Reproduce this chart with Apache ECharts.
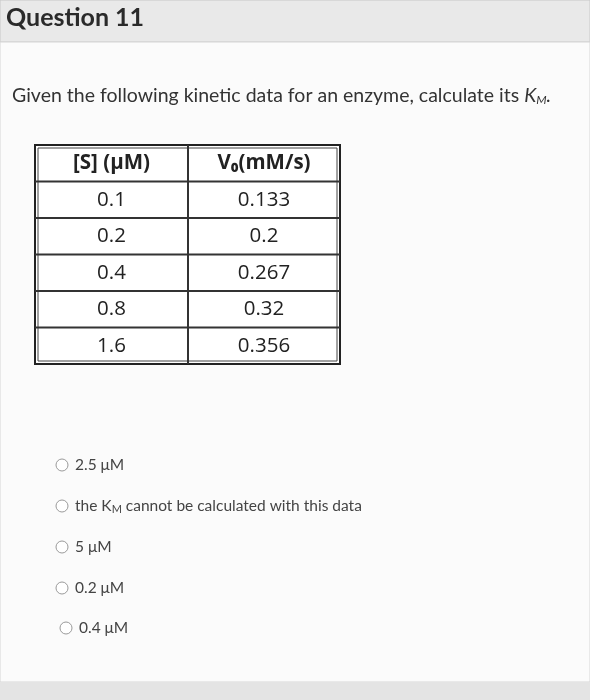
<!DOCTYPE html>
<html><head><meta charset="utf-8">
<script src="https://cdn.jsdelivr.net/npm/echarts@6/dist/echarts.min.js"></script>
<style>html,body{margin:0;padding:0;background:#f4f4f4}#c{width:590px;height:700px}</style>
</head><body><div id="c"></div>
<script>
const headers = ['[S] (μM)', 'V₀(mM/s)'];
const sValues = ['0.1', '0.2', '0.4', '0.8', '1.6'];
const vValues = ['0.133', '0.2', '0.267', '0.32', '0.356'];
const answerOptions = ['2.5 μM', 'the K_M cannot be calculated with this data', '5 μM', '0.2 μM', '0.4 μM'];

const chart = echarts.init(document.getElementById('c'));
const g = [];
const F = 'Lato, "Noto Sans", sans-serif';
g.push({type:'rect', shape:{x:0,y:0,width:590,height:700}, style:{fill:'#f6f6f6'}});
g.push({type:'rect', shape:{x:0,y:0,width:590,height:42}, style:{fill:'#e9e9e9', stroke:'#c8c8c8', lineWidth:1}});
g.push({type:'rect', shape:{x:0,y:42,width:590,height:640}, style:{fill:'#fbfbfb', stroke:'#d6d6d6', lineWidth:1}});
g.push({type:'text', x:6, y:5, style:{text:'Question 11', font:'bold 25px '+F, fill:'#2a2a2a'}});
g.push({type:'text', x:12, y:85, style:{
  text:'Given the following kinetic data for an enzyme, calculate its {k|K}{s|M}{k|.}',
  font:'19.5px '+F, fill:'#333',
  rich:{k:{font:'italic 19.5px '+F, fill:'#333'}, s:{font:'italic 12px '+F, fill:'#333', padding:[9,0,0,0]}}
}});
const tx = 35, tw = 305, colX = 188, rh = 36.5, ty = 145;
const rows = [headers].concat(sValues.map((s,i)=>[s, vValues[i]]));
g.push({type:'rect', shape:{x:tx,y:ty,width:tw,height:rh*rows.length}, style:{fill:'#fff', stroke:'#222', lineWidth:2}});
g.push({type:'rect', shape:{x:tx+3,y:ty+3,width:tw-6,height:rh*rows.length-6}, style:{fill:'none', stroke:'#444', lineWidth:1}});
rows.forEach((r,i)=>{
  const y = ty + i*rh;
  if(i>0) g.push({type:'line', shape:{x1:tx,y1:y,x2:tx+tw,y2:y}, style:{stroke:'#333', lineWidth:2}});
  [ (tx+colX)/2, (colX+tx+tw)/2 ].forEach((cx,j)=>{
    g.push({type:'text', x:cx, y:y+rh/2, style:{text:r[j], align:'center', verticalAlign:'middle',
      font:(i===0?'bold ':'')+'20.5px "Open Sans", "Noto Sans", sans-serif', fill:'#222'}});
  });
});
g.push({type:'line', shape:{x1:colX,y1:ty,x2:colX,y2:ty+rh*rows.length}, style:{stroke:'#333', lineWidth:2}});
const oy = [465, 506, 547, 588, 628];
answerOptions.forEach((t,i)=>{
  const x0 = 62 + (i===4?4:0);
  g.push({type:'circle', shape:{cx:x0, cy:oy[i], r:6}, style:{fill:'#fff', stroke:'#9a9a9a', lineWidth:1}});
  g.push({type:'text', x:x0+13, y:oy[i], style:{
    text: t.replace('K_M','{k|K}{s|M}'), verticalAlign:'middle', font:'15.5px '+F, fill:'#444',
    rich:{k:{font:'15.5px '+F, fill:'#444'}, s:{font:'11px '+F, fill:'#444', padding:[6,0,0,0]}}
  }});
});
g.push({type:'rect', shape:{x:0,y:682,width:590,height:18}, style:{fill:'#e4e4e4'}});
chart.setOption({animation:false, graphic:g});
</script></body></html>
